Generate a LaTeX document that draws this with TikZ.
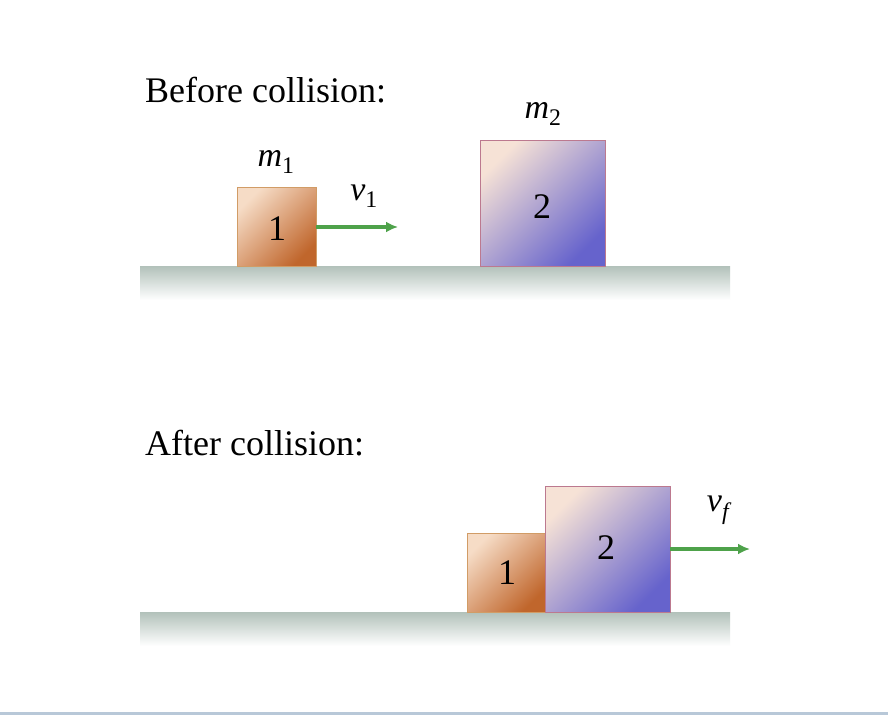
\documentclass[tikz,border=0pt]{standalone}
\usepackage{fontspec}
\usetikzlibrary{arrows.meta}
\setmainfont{Liberation Serif}
\begin{document}
\begin{tikzpicture}[x=1pt,y=-1pt,
  lbl/.style={font=\fontsize{36}{40}\selectfont, inner sep=0pt},
  sym/.style={font=\fontsize{34}{38}\selectfont\itshape, inner sep=0pt},
  floor/.style={top color=floorgray, bottom color=white},
  blockA/.style={draw=orange!70!black!60, line width=1pt, top color=b1light, bottom color=b1dark, shading angle=45},
  blockB/.style={draw=purple!50!gray!70, line width=1pt, top color=b2light, bottom color=b2dark, shading angle=45},
  vel/.style={draw=velgreen, line width=3.5pt, -{Latex[length=12pt,width=11pt]}}]
\definecolor{floorgray}{HTML}{B2C1BA}
\definecolor{b1light}{HTML}{F6DCC6}
\definecolor{b1dark}{HTML}{C0662C}
\definecolor{b2light}{HTML}{F6E2D6}
\definecolor{b2dark}{HTML}{6663CC}
\definecolor{velgreen}{HTML}{4EA24A}
\definecolor{rule}{HTML}{B8C8D8}
\useasboundingbox (0,0) rectangle (888,722);
\fill[white] (0,0) rectangle (888,722);
\fill[rule] (0,712) rectangle (888,715);
% before
\node[lbl, anchor=west] (tb) at (145,90) {Before collision:};
\shade[floor] (140,266) rectangle (730,300);
\shade[blockA] (237,188) rectangle (316,266);
\node[lbl] (n1) at (277,229) {1};
\node[sym] (m1) at (276,162) {m\textsubscript{\upshape 1}};
\coordinate (a1s) at (316,227);
\coordinate (a1e) at (398,227);
\draw[vel] (a1s) -- (a1e);
\node[sym] (v1) at (364,196) {v\textsubscript{\upshape 1}};
\shade[blockB] (480,141) rectangle (605,266);
\node[lbl] (n2) at (542,207) {2};
\node[sym] (m2) at (543,114) {m\textsubscript{\upshape 2}};
% after
\node[lbl, anchor=west] (ta) at (145,443) {After collision:};
\shade[floor] (140,612) rectangle (730,646);
\shade[blockA] (467,533) rectangle (545,612);
\node[lbl] (n1b) at (507,573) {1};
\shade[blockB] (545,486) rectangle (670,612);
\node[lbl] (n2b) at (606,548) {2};
\coordinate (a2s) at (670,549);
\coordinate (a2e) at (750,549);
\draw[vel] (a2s) -- (a2e);
\node[sym] (vf) at (718,510) {v\textsubscript{\itshape f}};
\end{tikzpicture}
\end{document}
